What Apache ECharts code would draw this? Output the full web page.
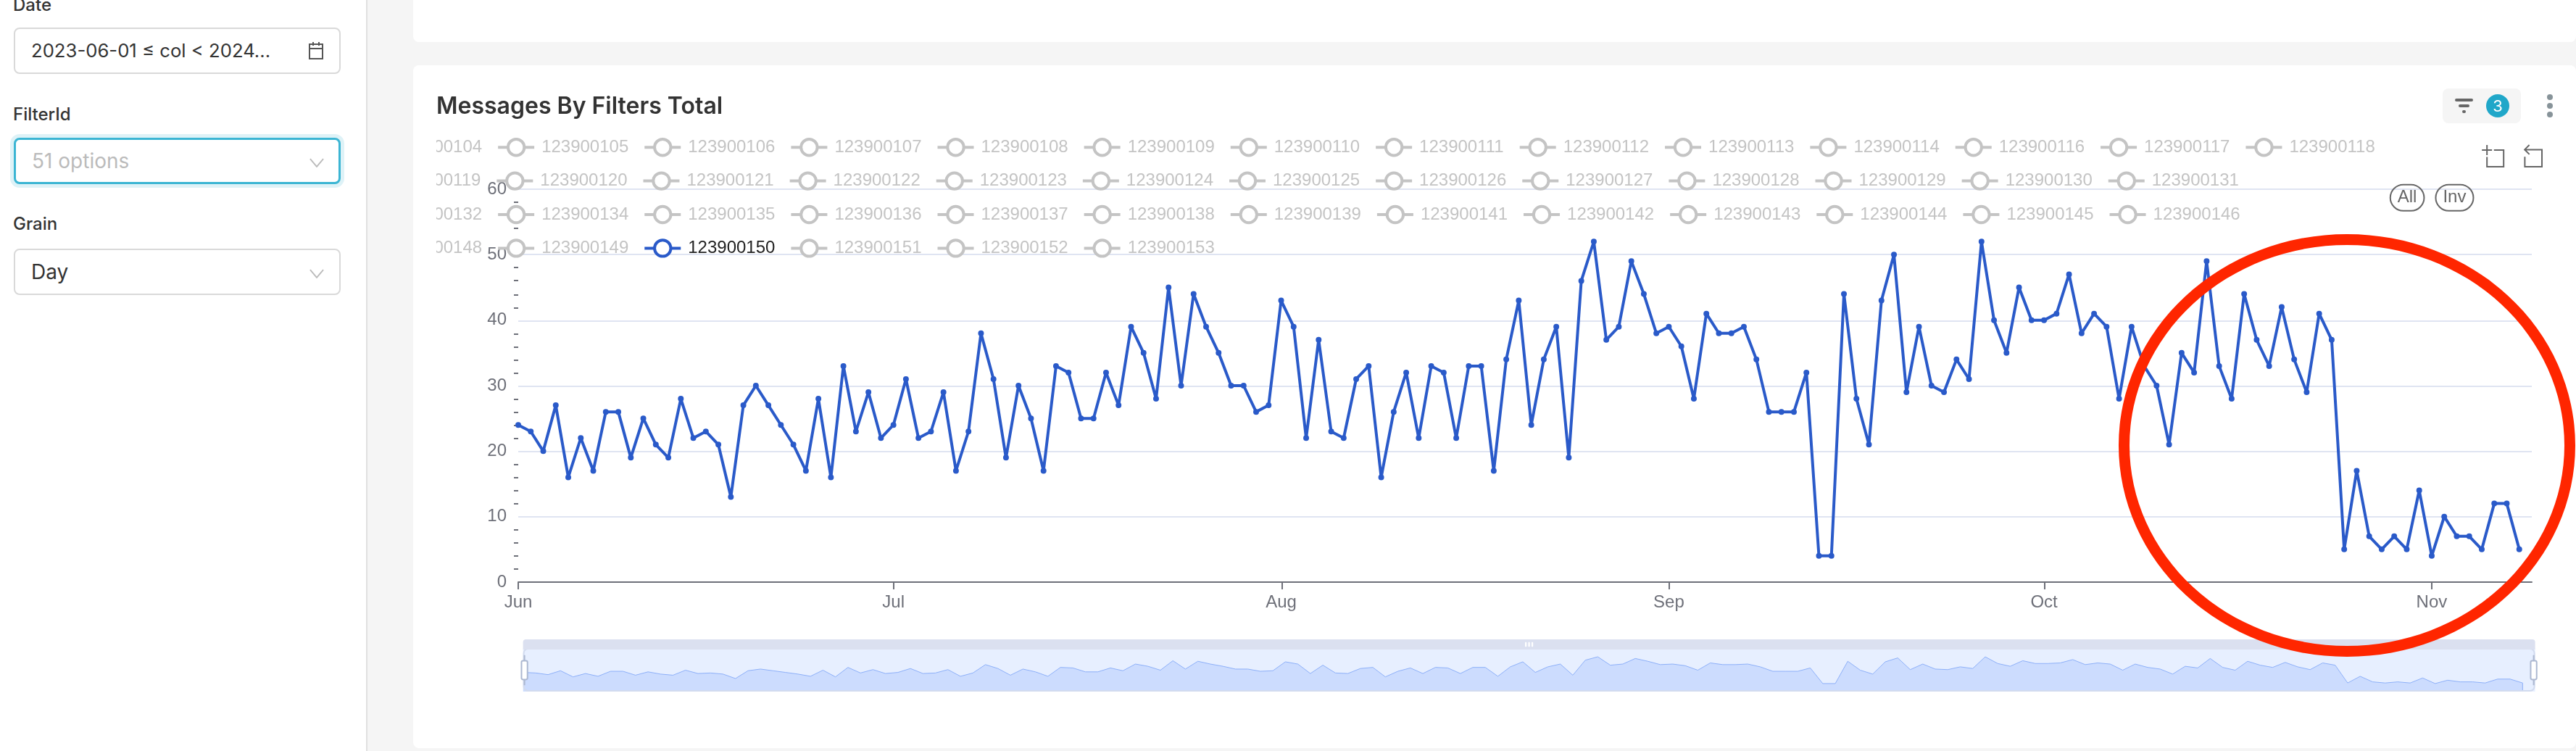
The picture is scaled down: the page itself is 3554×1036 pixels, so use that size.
<!DOCTYPE html>
<html>
<head>
<meta charset="utf-8">
<title>Messages By Filters Total</title>
<script src="https://cdn.jsdelivr.net/npm/echarts@6/dist/echarts.min.js"></script>
<style>
html,body{margin:0;padding:0;width:3554px;height:1036px;overflow:hidden;background:#f5f5f5;font-family:Inter,sans-serif;color:#333}
.side{position:absolute;left:0;top:0;width:505px;height:1036px;background:#fff;border-right:2px solid #e0e0e0}
.lab{position:absolute;left:18px;font-size:24px;font-weight:500;line-height:30px;color:#333}
.box{position:absolute;left:19px;width:451px;height:64px;box-sizing:border-box;border:2px solid #d9d9d9;border-radius:8px;background:#fff;font-size:25.7px;line-height:60px;padding-left:22px;white-space:nowrap;color:#333}
.box.sel{font-size:28px}
.box.on{border:3px solid #3bb5d3;box-shadow:0 0 0 5px rgba(32,167,201,.15);color:#bbb;line-height:58px}
.box svg{position:absolute}
.card{position:absolute;background:#fff;border-radius:8px}
/* the screenshot was taken on a 2x screen, so the chart is laid out at half size and scaled */
#chart{position:absolute;left:602px;top:0;width:1476px;height:518px;transform:scale(2);transform-origin:0 0}
.fbtn{position:absolute;left:3370px;top:122px;width:108px;height:48px;background:#f5f5f5;border-radius:8px}
.badge{position:absolute;left:3430px;top:130px;width:32px;height:32px;border-radius:16px;background:#20a7c9;color:#fff;font-size:22px;line-height:32px;text-align:center}
.bar{position:absolute;height:4px;background:#666;border-radius:2px}
.dot{position:absolute;left:3514px;width:8px;height:8px;border-radius:4px;background:#879399}
#ring{position:absolute;left:2923px;top:323px;width:630px;height:583px;box-sizing:border-box;border:15px solid #ff2600;border-radius:50%;pointer-events:none}
</style>
</head>
<body>
<div class="side">
  <div class="lab" style="top:-8px">Date</div>
  <div class="box" style="top:38px">2023-06-01 ≤ col &lt; 2024...
    <svg style="left:404px;top:17px" width="22" height="26" viewBox="0 0 22 26" fill="none" stroke="#555" stroke-width="2"><rect x="2" y="4" width="18" height="20"/><path d="M2 10h18M7 1v5M15 1v5"/></svg>
  </div>
  <div class="lab" style="top:143px">FilterId</div>
  <div class="box sel on" style="top:190px">51 options
    <svg style="left:405px;top:25px" width="20" height="13" viewBox="0 0 22 14" fill="none" stroke="#bbb" stroke-width="2"><path d="M1 1l10 12L21 1"/></svg>
  </div>
  <div class="lab" style="top:294px">Grain</div>
  <div class="box sel" style="top:343px">Day
    <svg style="left:406px;top:26px" width="20" height="13" viewBox="0 0 22 14" fill="none" stroke="#bbb" stroke-width="2"><path d="M1 1l10 12L21 1"/></svg>
  </div>
</div>
<div class="card" style="left:570px;top:-20px;width:2984px;height:78px"></div>
<div class="card" style="left:570px;top:90px;width:2984px;height:942px"></div>
<div id="chart"></div>
<div class="fbtn"></div>
<div class="bar" style="left:3387px;top:136px;width:25px"></div>
<div class="bar" style="left:3392px;top:144px;width:15px"></div>
<div class="bar" style="left:3397px;top:152px;width:5px"></div>
<div class="badge">3</div>
<div class="dot" style="top:130px"></div>
<div class="dot" style="top:142px"></div>
<div class="dot" style="top:154px"></div>
<div id="ring"></div>
<script>
var startDay = Date.UTC(2023, 5, 1);
var oneDay = 86400000;

var legendNames = [
  '123900104','123900105','123900106','123900107','123900108','123900109','123900110','123900111',
  '123900112','123900113','123900114','123900116','123900117','123900118',
  '123900119','123900120','123900121','123900122','123900123','123900124','123900125','123900126',
  '123900127','123900128','123900129','123900130','123900131',
  '123900132','123900134','123900135','123900136','123900137','123900138','123900139','123900141',
  '123900142','123900143','123900144','123900145','123900146',
  '123900148','123900149','123900150','123900151','123900152','123900153'
];

// the visible line, Jun 1 to Nov 8, the last row of the table has no value
var values150 = [
  24,23,20,27,16,22,17,26,26,19,25,21,19,28,22,23,21,13,27,30,27,24,21,17,28,16,33,23,29,22,
  24,31,22,23,29,17,23,38,31,19,30,25,17,33,32,25,25,32,27,39,35,28,45,30,44,39,35,30,30,26,27,
  43,39,22,37,23,22,31,33,16,26,32,22,33,32,22,33,33,17,34,43,24,34,39,19,46,52,37,39,49,44,38,
  39,36,28,41,38,38,39,34,26,26,26,32,4,4,44,28,21,43,50,29,39,30,29,34,31,52,40,35,45,40,
  40,41,47,38,41,39,28,39,33,30,21,35,32,49,33,28,44,37,33,42,34,29,41,37,5,17,7,5,7,5,14,
  4,10,7,7,5,12,12,5,null
];

// first series of the table, switched off in the legend, only seen in the slider
var values104 = [
  40,38,36,44,31,38,32,43,43,35,41,37,35,45,38,39,37,28,44,47,44,40,36,32,45,31,51,39,46,38,
  40,48,38,39,46,32,39,57,48,35,47,41,32,51,50,42,42,50,44,58,53,45,65,48,64,58,53,48,47,43,44,
  62,58,38,55,39,38,48,51,31,43,50,38,51,50,38,51,51,32,52,62,40,52,58,35,66,73,56,58,70,64,57,
  58,55,45,60,57,57,58,53,43,43,43,50,17,17,64,45,37,63,71,47,58,48,46,52,49,73,59,53,65,59,
  59,60,67,57,60,58,45,58,52,48,37,53,50,69,51,45,64,57,51,61,53,46,60,56,18,32,21,18,20,18,28,
  17,24,21,20,18,26,26,17,null
];

var yTicks = {min: 0, max: 60, step: 10};

function toRows(vals) {
  var rows = [];
  for (var i = 0; i < vals.length; i++) {
    rows.push([startDay + i * oneDay, vals[i]]);
  }
  return rows;
}

var selected = {};
var seriesList = [];
for (var i = 0; i < legendNames.length; i++) {
  var n = legendNames[i];
  selected[n] = n == '123900150';
  var d = [];
  if (n == '123900104') d = toRows(values104);
  if (n == '123900150') d = toRows(values150);
  seriesList.push({
    name: n,
    type: 'line',
    data: d,
    symbol: 'emptyCircle',
    symbolSize: 2,
    showSymbol: true,
    lineStyle: {width: 2},
    itemStyle: {color: '#2a5ac9'},
    emphasis: {disabled: true}
  });
}

var fontName = '"Liberation Sans", Arial, sans-serif';
var myChart = echarts.init(document.getElementById('chart'), null, {devicePixelRatio: 2});
myChart.setOption({
  animation: false,
  useUTC: true,
  textStyle: {fontFamily: fontName},
  title: {
    text: 'Messages By Filters Total',
    left: 0,
    top: 65.5,
    padding: 0,
    textStyle: {fontFamily: 'Inter', fontSize: 16, fontWeight: 600, color: '#333'}
  },
  legend: {
    type: 'plain',
    left: -59.5,
    top: 95,
    width: 1400,
    padding: 0,
    itemWidth: 25,
    itemHeight: 14,
    itemGap: 10,
    data: legendNames,
    selected: selected,
    inactiveColor: '#c4c4c4',
    inactiveBorderColor: '#c4c4c4',
    lineStyle: {inactiveColor: '#c4c4c4'},
    textStyle: {fontSize: 12, color: '#222', fontFamily: fontName},
    selector: [{type: 'all', title: 'All'}, {type: 'inverse', title: 'Inv'}],
    selectorLabel: {fontSize: 12, color: '#666', borderColor: '#666', borderWidth: 1, borderRadius: 10, fontFamily: fontName}
  },
  toolbox: {
    right: 21,
    top: 97.5,
    padding: 0,
    itemSize: 15,
    itemGap: 9.5,
    iconStyle: {borderColor: '#666', borderWidth: 1},
    feature: {dataZoom: {yAxisIndex: 'none', title: {zoom: '', back: ''}}}
  },
  grid: {left: 56.5, right: 30.5, top: 130.5, bottom: 116.5, containLabel: false},
  xAxis: {
    type: 'time',
    splitNumber: 5,
    axisLine: {lineStyle: {color: '#6e7079', width: 1}},
    axisTick: {show: true, length: 5, lineStyle: {color: '#6e7079', width: 1}},
    axisLabel: {color: '#6e7079', fontSize: 12, margin: 8, formatter: '{MMM}', showMaxLabel: false, fontFamily: fontName},
    splitLine: {show: false}
  },
  yAxis: {
    type: 'value',
    min: yTicks.min,
    max: yTicks.max,
    interval: yTicks.step,
    axisLine: {show: false},
    axisTick: {show: false},
    minorTick: {show: true, splitNumber: 5, length: 3, lineStyle: {color: '#6e7079', width: 1}},
    axisLabel: {color: '#6e7079', fontSize: 12, margin: 8, fontFamily: fontName},
    splitLine: {lineStyle: {color: '#dfe4f2', width: 1}}
  },
  dataZoom: [{
    type: 'slider',
    xAxisIndex: 0,
    start: 0,
    end: 100,
    left: 57,
    right: 31,
    top: 441,
    height: 29.5,
    showDetail: false,
    moveHandleSize: 7,
    moveHandleStyle: {color: '#dbe0f0', opacity: 1},
    handleSize: '70%',
    borderRadius: 3,
    borderColor: '#d2dbee',
    handleStyle: {color: '#fff', borderColor: '#acb8d1', borderWidth: 1},
    dataBackground: {lineStyle: {color: '#d2dbee', width: .5}, areaStyle: {color: '#d2dbee'}},
    selectedDataBackground: {lineStyle: {color: '#8fb0f7', width: .5}, areaStyle: {color: '#8fb0f7', opacity: .3}}
  }],
  series: seriesList
});
</script>
</body>
</html>
